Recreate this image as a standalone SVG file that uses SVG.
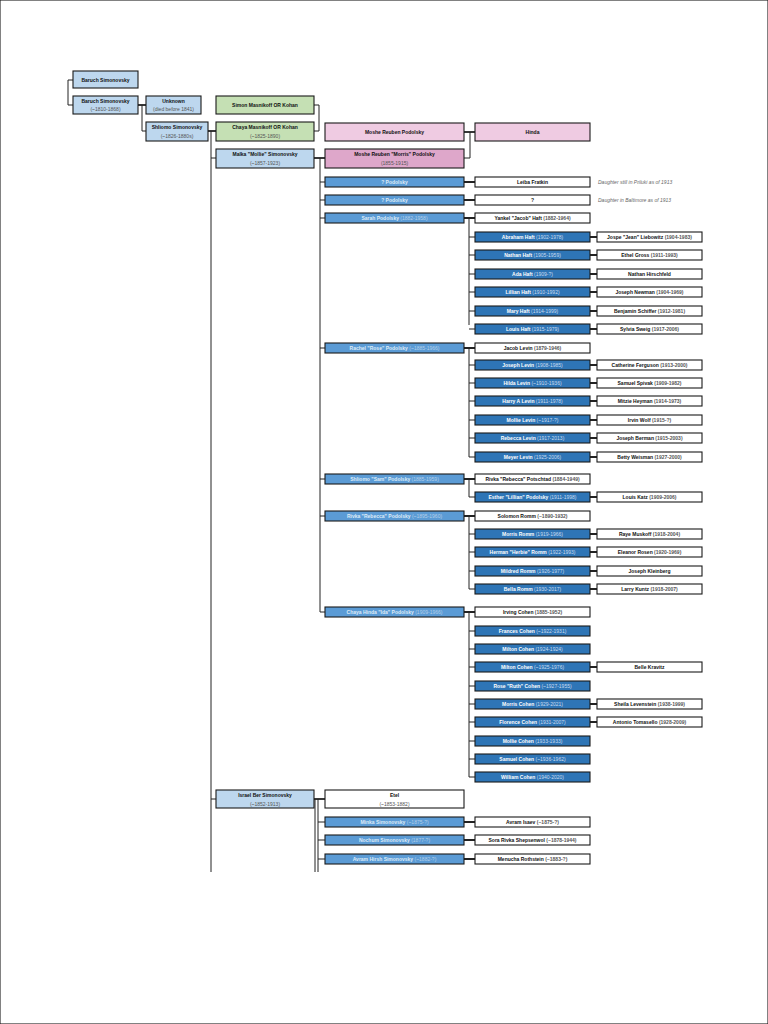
<svg xmlns="http://www.w3.org/2000/svg" width="768" height="1024" viewBox="0 0 768 1024">
<style>
rect{stroke:#1a1a1a;stroke-width:1.1}
.lb{fill:#bdd7ee}.gr{fill:#c5e0b4}.p1{fill:#efcbe2}.p2{fill:#dea7ca}.m{fill:#5b9bd5}.d{fill:#2e75b6}.w{fill:#fff}
text{font-family:"Liberation Sans",Arial,sans-serif;font-size:5px;text-anchor:middle}
.b{font-weight:bold;fill:#111}.r{fill:#555}
.lt{fill:#deebf7;font-weight:bold}.lt tspan.r{fill:#b4cfe8;font-weight:normal}
.wt{fill:#fff;font-weight:bold}.wt tspan.r{fill:#c9dcf0;font-weight:normal}
.note{font-style:italic;fill:#666;text-anchor:start}
#conn path{fill:none;stroke:#222;stroke-width:1}
#conn .s{stroke-width:1.8}
</style>
<rect x="0" y="0" width="768" height="1024" fill="#fff" stroke="none"/>
<g id="conn">
<path d="M73,80H68V105H73"/>
<path class="s" d="M138,105H146"/>
<path d="M142,105V131H146"/>
<path d="M314,105H319V131H314"/>
<path class="s" d="M208,131H216"/>
<path d="M211,131V872M211,158H216M211,799H216"/>
<path class="s" d="M464,132H475"/>
<path d="M470,132V158H464"/>
<path class="s" d="M314,158H325"/>
<path d="M320,158V612M320,182H325M320,200H325M320,218H325M320,348H325M320,479H325M320,516H325M320,612H325"/>
<path class="s" d="M464,182H475M464,200H475M464,218H475M464,348H475M464,479H475M464,516H475M464,612H475"/>
<path d="M469,218V325M469,237H475M469,255H475M469,274H475M469,292H475M469,311H475M469,329H475"/>
<path d="M469,348V457M469,365H475M469,383H475M469,401H475M469,420H475M469,438H475M469,457H475"/>
<path d="M469,479V497H475"/>
<path d="M469,516V589M469,534H475M469,552H475M469,571H475M469,589H475"/>
<path d="M469,612V777M469,631H475M469,649H475M469,667H475M469,686H475M469,704H475M469,722H475M469,741H475M469,759H475M469,777H475"/>
<path class="s" d="M590,237H597M590,255H597M590,274H597M590,292H597M590,311H597M590,329H597M590,365H597M590,383H597M590,401H597M590,420H597M590,438H597M590,457H597M590,497H597M590,534H597M590,552H597M590,571H597M590,589H597M590,667H597M590,704H597M590,722H597"/>
<path class="s" d="M314,799H325"/>
<path d="M315,799V872M318,799V872M318,822H325M318,840H325M318,859H325"/>
<path class="s" d="M464,822H475M464,840H475M464,859H475"/>
</g>
<g id="n1"><rect class="lb" x="73" y="71" width="65" height="17"/><text class="b" x="105.5" y="81.5">Baruch Simonovsky</text></g>
<g id="n2"><rect class="lb" x="73" y="96" width="65" height="18"/><text class="b" x="105.5" y="103">Baruch Simonovsky</text><text class="r" x="105.5" y="111">(~1810-1868)</text></g>
<g id="n3"><rect class="lb" x="146" y="96" width="55" height="18"/><text class="b" x="173.5" y="103">Unknown</text><text class="r" x="173.5" y="111">(died before 1841)</text></g>
<g id="n4"><rect class="gr" x="216" y="96" width="98" height="18"/><text class="b" x="265" y="107">Simon Masnikoff OR Kohan</text></g>
<g id="n5"><rect class="lb" x="146" y="122" width="62" height="19"/><text class="b" x="177" y="129">Shliomo Simonovsky</text><text class="r" x="177" y="137.5">(~1826-1880s)</text></g>
<g id="n6"><rect class="gr" x="216" y="122" width="98" height="19"/><text class="b" x="265" y="129">Chaya Masnikoff OR Kohan</text><text class="r" x="265" y="137.5">(~1825-1890)</text></g>
<g id="n7"><rect class="p1" x="325" y="123" width="139" height="18"/><text class="b" x="394.5" y="133.5">Moshe Reuben Podolsky</text></g>
<g id="n8"><rect class="p1" x="475" y="123" width="115" height="18"/><text class="b" x="532.5" y="133.5">Hinda</text></g>
<g id="n9"><rect class="lb" x="216" y="149" width="98" height="19"/><text class="b" x="265" y="156">Malka "Mollie" Simonovsky</text><text class="r" x="265" y="164.5">(~1857-1923)</text></g>
<g id="n10"><rect class="p2" x="325" y="149" width="139" height="19"/><text class="b" x="394.5" y="156">Moshe Reuben "Morris" Podolsky</text><text class="r" x="394.5" y="164.5">(1855-1915)</text></g>
<g id="a1"><rect class="m" x="325" y="177" width="139" height="10"/><text class="lt" x="394.5" y="183.8">? Podolsky</text></g>
<g id="s1"><rect class="w" x="475" y="177" width="115" height="10"/><text class="b" x="532.5" y="183.8">Leiba Fratkin</text></g>
<text class="note" x="598" y="183.8">Daughter still in Priluki as of 1913</text>
<g id="a2"><rect class="m" x="325" y="195" width="139" height="10"/><text class="lt" x="394.5" y="201.8">? Podolsky</text></g>
<g id="s2"><rect class="w" x="475" y="195" width="115" height="10"/><text class="b" x="532.5" y="201.8">?</text></g>
<text class="note" x="598" y="201.8">Daughter in Baltimore as of 1913</text>
<g id="a3"><rect class="m" x="325" y="213" width="139" height="10"/><text class="lt" x="394.5" y="219.8">Sarah Podolsky <tspan class="r">(1882-1958)</tspan></text></g>
<g id="s3"><rect class="w" x="475" y="213" width="115" height="10"/><text class="b" x="532.5" y="219.8">Yankel "Jacob" Haft <tspan class="r">(1882-1964)</tspan></text></g>
<g id="c1"><rect class="d" x="475" y="232" width="115" height="10"/><text class="wt" x="532.5" y="238.8">Abraham Haft <tspan class="r">(1902-1978)</tspan></text></g>
<g id="x1"><rect class="w" x="597" y="232" width="105" height="10"/><text class="b" x="649.5" y="238.8">Jospe "Jean" Liebowitz <tspan class="r">(1904-1983)</tspan></text></g>
<g id="c2"><rect class="d" x="475" y="250" width="115" height="10"/><text class="wt" x="532.5" y="256.8">Nathan Haft <tspan class="r">(1905-1959)</tspan></text></g>
<g id="x2"><rect class="w" x="597" y="250" width="105" height="10"/><text class="b" x="649.5" y="256.8">Ethel Gross <tspan class="r">(1911-1993)</tspan></text></g>
<g id="c3"><rect class="d" x="475" y="269" width="115" height="10"/><text class="wt" x="532.5" y="275.8">Ada Haft <tspan class="r">(1909-?)</tspan></text></g>
<g id="x3"><rect class="w" x="597" y="269" width="105" height="10"/><text class="b" x="649.5" y="275.8">Nathan Hirschfeld</text></g>
<g id="c4"><rect class="d" x="475" y="287" width="115" height="10"/><text class="wt" x="532.5" y="293.8">Lillian Haft <tspan class="r">(1910-1992)</tspan></text></g>
<g id="x4"><rect class="w" x="597" y="287" width="105" height="10"/><text class="b" x="649.5" y="293.8">Joseph Newman <tspan class="r">(1904-1969)</tspan></text></g>
<g id="c5"><rect class="d" x="475" y="306" width="115" height="10"/><text class="wt" x="532.5" y="312.8">Mary Haft <tspan class="r">(1914-1999)</tspan></text></g>
<g id="x5"><rect class="w" x="597" y="306" width="105" height="10"/><text class="b" x="649.5" y="312.8">Benjamin Schiffer <tspan class="r">(1912-1981)</tspan></text></g>
<g id="c6"><rect class="d" x="475" y="324" width="115" height="10"/><text class="wt" x="532.5" y="330.8">Louis Haft <tspan class="r">(1915-1979)</tspan></text></g>
<g id="x6"><rect class="w" x="597" y="324" width="105" height="10"/><text class="b" x="649.5" y="330.8">Sylvia Sweig <tspan class="r">(1917-2006)</tspan></text></g>
<g id="a4"><rect class="m" x="325" y="343" width="139" height="10"/><text class="lt" x="394.5" y="349.8">Rachel "Rose" Podolsky <tspan class="r">(~1885-1966)</tspan></text></g>
<g id="s4"><rect class="w" x="475" y="343" width="115" height="10"/><text class="b" x="532.5" y="349.8">Jacob Levin <tspan class="r">(1879-1946)</tspan></text></g>
<g id="c7"><rect class="d" x="475" y="360" width="115" height="10"/><text class="wt" x="532.5" y="366.8">Joseph Levin <tspan class="r">(1908-1985)</tspan></text></g>
<g id="x7"><rect class="w" x="597" y="360" width="105" height="10"/><text class="b" x="649.5" y="366.8">Catherine Ferguson <tspan class="r">(1913-2000)</tspan></text></g>
<g id="c8"><rect class="d" x="475" y="378" width="115" height="10"/><text class="wt" x="532.5" y="384.8">Hilda Levin <tspan class="r">(~1910-1936)</tspan></text></g>
<g id="x8"><rect class="w" x="597" y="378" width="105" height="10"/><text class="b" x="649.5" y="384.8">Samuel Spivak <tspan class="r">(1909-1982)</tspan></text></g>
<g id="c9"><rect class="d" x="475" y="396" width="115" height="10"/><text class="wt" x="532.5" y="402.8">Harry A Levin <tspan class="r">(1911-1978)</tspan></text></g>
<g id="x9"><rect class="w" x="597" y="396" width="105" height="10"/><text class="b" x="649.5" y="402.8">Mitzie Heyman <tspan class="r">(1914-1973)</tspan></text></g>
<g id="c10"><rect class="d" x="475" y="415" width="115" height="10"/><text class="wt" x="532.5" y="421.8">Mollie Levin <tspan class="r">(~1917-?)</tspan></text></g>
<g id="x10"><rect class="w" x="597" y="415" width="105" height="10"/><text class="b" x="649.5" y="421.8">Irvin Wolf <tspan class="r">(1915-?)</tspan></text></g>
<g id="c11"><rect class="d" x="475" y="433" width="115" height="10"/><text class="wt" x="532.5" y="439.8">Rebecca Levin <tspan class="r">(1917-2013)</tspan></text></g>
<g id="x11"><rect class="w" x="597" y="433" width="105" height="10"/><text class="b" x="649.5" y="439.8">Joseph Berman <tspan class="r">(1915-2003)</tspan></text></g>
<g id="c12"><rect class="d" x="475" y="452" width="115" height="10"/><text class="wt" x="532.5" y="458.8">Meyer Levin <tspan class="r">(1925-2006)</tspan></text></g>
<g id="x12"><rect class="w" x="597" y="452" width="105" height="10"/><text class="b" x="649.5" y="458.8">Betty Weisman <tspan class="r">(1927-2000)</tspan></text></g>
<g id="a5"><rect class="m" x="325" y="474" width="139" height="10"/><text class="lt" x="394.5" y="480.8">Shliomo "Sam" Podolsky <tspan class="r">(1885-1959)</tspan></text></g>
<g id="s5"><rect class="w" x="475" y="474" width="115" height="10"/><text class="b" x="532.5" y="480.8">Rivka "Rebecca" Potschtad <tspan class="r">(1884-1949)</tspan></text></g>
<g id="c13"><rect class="d" x="475" y="492" width="115" height="10"/><text class="wt" x="532.5" y="498.8">Esther "Lillian" Podolsky <tspan class="r">(1911-1998)</tspan></text></g>
<g id="x13"><rect class="w" x="597" y="492" width="105" height="10"/><text class="b" x="649.5" y="498.8">Louis Katz <tspan class="r">(1909-2006)</tspan></text></g>
<g id="a6"><rect class="m" x="325" y="511" width="139" height="10"/><text class="lt" x="394.5" y="517.8">Rivka "Rebecca" Podolsky <tspan class="r">(~1895-1960)</tspan></text></g>
<g id="s6"><rect class="w" x="475" y="511" width="115" height="10"/><text class="b" x="532.5" y="517.8">Solomon Romm <tspan class="r">(~1890-1932)</tspan></text></g>
<g id="c14"><rect class="d" x="475" y="529" width="115" height="10"/><text class="wt" x="532.5" y="535.8">Morris Romm <tspan class="r">(1919-1966)</tspan></text></g>
<g id="x14"><rect class="w" x="597" y="529" width="105" height="10"/><text class="b" x="649.5" y="535.8">Raye Muskoff <tspan class="r">(1918-2004)</tspan></text></g>
<g id="c15"><rect class="d" x="475" y="547" width="115" height="10"/><text class="wt" x="532.5" y="553.8">Herman "Herbie" Romm <tspan class="r">(1922-1993)</tspan></text></g>
<g id="x15"><rect class="w" x="597" y="547" width="105" height="10"/><text class="b" x="649.5" y="553.8">Eleanor Rosen <tspan class="r">(1920-1969)</tspan></text></g>
<g id="c16"><rect class="d" x="475" y="566" width="115" height="10"/><text class="wt" x="532.5" y="572.8">Mildred Romm <tspan class="r">(1926-1977)</tspan></text></g>
<g id="x16"><rect class="w" x="597" y="566" width="105" height="10"/><text class="b" x="649.5" y="572.8">Joseph Kleinberg</text></g>
<g id="c17"><rect class="d" x="475" y="584" width="115" height="10"/><text class="wt" x="532.5" y="590.8">Bella Romm <tspan class="r">(1930-2017)</tspan></text></g>
<g id="x17"><rect class="w" x="597" y="584" width="105" height="10"/><text class="b" x="649.5" y="590.8">Larry Kuntz <tspan class="r">(1918-2007)</tspan></text></g>
<g id="a7"><rect class="m" x="325" y="607" width="139" height="10"/><text class="lt" x="394.5" y="613.8">Chaya Hinda "Ida" Podolsky <tspan class="r">(1909-1966)</tspan></text></g>
<g id="s7"><rect class="w" x="475" y="607" width="115" height="10"/><text class="b" x="532.5" y="613.8">Irving Cohen <tspan class="r">(1885-1952)</tspan></text></g>
<g id="c18"><rect class="d" x="475" y="626" width="115" height="10"/><text class="wt" x="532.5" y="632.8">Frances Cohen <tspan class="r">(~1922-1931)</tspan></text></g>
<g id="c19"><rect class="d" x="475" y="644" width="115" height="10"/><text class="wt" x="532.5" y="650.8">Milton Cohen <tspan class="r">(1924-1924)</tspan></text></g>
<g id="c20"><rect class="d" x="475" y="662" width="115" height="10"/><text class="wt" x="532.5" y="668.8">Milton Cohen <tspan class="r">(~1925-1976)</tspan></text></g>
<g id="x20"><rect class="w" x="597" y="662" width="105" height="10"/><text class="b" x="649.5" y="668.8">Belle Kravitz</text></g>
<g id="c21"><rect class="d" x="475" y="681" width="115" height="10"/><text class="wt" x="532.5" y="687.8">Rose "Ruth" Cohen <tspan class="r">(~1927-1955)</tspan></text></g>
<g id="c22"><rect class="d" x="475" y="699" width="115" height="10"/><text class="wt" x="532.5" y="705.8">Morris Cohen <tspan class="r">(1929-2021)</tspan></text></g>
<g id="x22"><rect class="w" x="597" y="699" width="105" height="10"/><text class="b" x="649.5" y="705.8">Sheila Levenstein <tspan class="r">(1938-1999)</tspan></text></g>
<g id="c23"><rect class="d" x="475" y="717" width="115" height="10"/><text class="wt" x="532.5" y="723.8">Florence Cohen <tspan class="r">(1931-2007)</tspan></text></g>
<g id="x23"><rect class="w" x="597" y="717" width="105" height="10"/><text class="b" x="649.5" y="723.8">Antonio Tomasello <tspan class="r">(1928-2009)</tspan></text></g>
<g id="c24"><rect class="d" x="475" y="736" width="115" height="10"/><text class="wt" x="532.5" y="742.8">Mollie Cohen <tspan class="r">(1933-1933)</tspan></text></g>
<g id="c25"><rect class="d" x="475" y="754" width="115" height="10"/><text class="wt" x="532.5" y="760.8">Samuel Cohen <tspan class="r">(~1936-1962)</tspan></text></g>
<g id="c26"><rect class="d" x="475" y="772" width="115" height="10"/><text class="wt" x="532.5" y="778.8">William Cohen <tspan class="r">(1940-2020)</tspan></text></g>
<g id="n11"><rect class="lb" x="216" y="790" width="98" height="18"/><text class="b" x="265" y="797">Israel Ber Simonovsky</text><text class="r" x="265" y="805.5">(~1852-1913)</text></g>
<g id="n12"><rect class="w" x="325" y="790" width="139" height="18"/><text class="b" x="394.5" y="797">Etel</text><text class="r" x="394.5" y="805.5">(~1853-1882)</text></g>
<g id="a8"><rect class="m" x="325" y="817" width="139" height="10"/><text class="lt" x="394.5" y="823.8">Minka Simonovsky <tspan class="r">(~1875-?)</tspan></text></g>
<g id="s8"><rect class="w" x="475" y="817" width="115" height="10"/><text class="b" x="532.5" y="823.8">Avram Isaev <tspan class="r">(~1875-?)</tspan></text></g>
<g id="a9"><rect class="m" x="325" y="835" width="139" height="10"/><text class="lt" x="394.5" y="841.8">Nochum Simonovsky <tspan class="r">(1877-?)</tspan></text></g>
<g id="s9"><rect class="w" x="475" y="835" width="115" height="10"/><text class="b" x="532.5" y="841.8">Sora Rivka Shepsenwol <tspan class="r">(~1878-1944)</tspan></text></g>
<g id="a10"><rect class="m" x="325" y="854" width="139" height="10"/><text class="lt" x="394.5" y="860.8">Avram Hirsh Simonovsky <tspan class="r">(~1882-?)</tspan></text></g>
<g id="s10"><rect class="w" x="475" y="854" width="115" height="10"/><text class="b" x="532.5" y="860.8">Menucha Rothstein <tspan class="r">(~1883-?)</tspan></text></g>
</svg>
